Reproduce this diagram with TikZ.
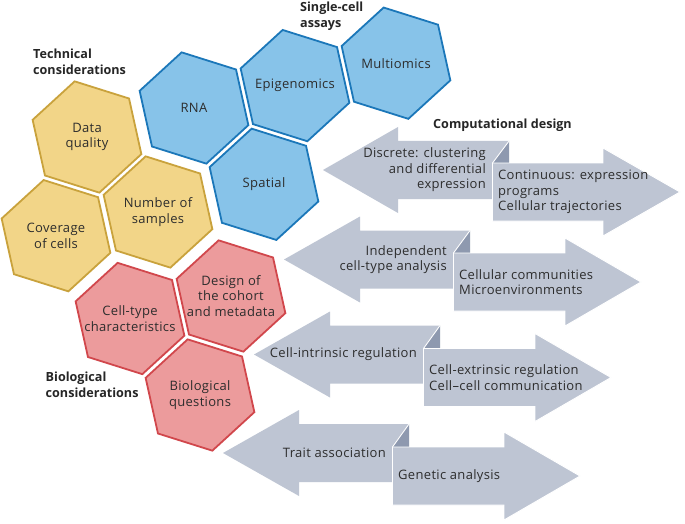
\documentclass[tikz,border=0pt]{standalone}
\usepackage{fontspec}
\setmainfont[LetterSpace=2.5]{Open Sans}
\newfontfamily\headfont{Open Sans}
\usetikzlibrary{calc}
\definecolor{bluefill}{HTML}{87C3E9}
\definecolor{bluedraw}{HTML}{1B77B9}
\definecolor{yelfill}{HTML}{F2D588}
\definecolor{yeldraw}{HTML}{C9A23C}
\definecolor{redfill}{HTML}{EC9B9C}
\definecolor{reddraw}{HTML}{D1474C}
\definecolor{arrfill}{HTML}{BEC5D3}
\definecolor{arrdark}{HTML}{8E99AF}
\definecolor{txt}{HTML}{2D2D2D}
\tikzset{
  hextext/.style={font=\fontsize{13}{15.6}\selectfont, text=txt, align=center, inner sep=0pt},
  arrtext/.style={font=\fontsize{13}{15.6}\selectfont, text=txt, inner sep=0pt},
  headtext/.style={font=\headfont\fontsize{12.6}{16}\selectfont\bfseries, text=black!85, align=left, inner sep=0pt},
  bluehex/.style={fill=bluefill, draw=bluedraw, line width=1.8pt, line join=miter},
  yelhex/.style={fill=yelfill, draw=yeldraw, line width=1.8pt, line join=miter},
  redhex/.style={fill=redfill, draw=reddraw, line width=1.8pt, line join=miter},
  arrshape/.style={fill=arrfill},
  arrfront/.style={fill=arrfill, draw=white, line width=0.9pt},
}
% #1 name, #2 x, #3 y, #4 style, #5 text
\newcommand{\myhex}[5]{%
  \draw[#4, shift={(#2,#3)}] (257.5:57) -- (317.5:57) -- (17.5:57) -- (77.5:57) -- (137.5:57) -- (197.5:57) -- cycle;
  \node[hextext] (#1) at (#2,#3) {#5};
}
% #1 tipL x, #2 yl, #3 head base L, #4 S, #5 yr, #6 head base R, #7 tip R, #8 name
\newcommand{\myrow}[8]{%
  \fill[arrshape] (#1,#2) -- (#3,#2-43) -- (#3,#2-29) -- (#4,#2-29) -- (#4-16.5,#5-29) -- (#4-16.5,#2+29) -- (#3,#2+29) -- (#3,#2+43) -- cycle;
  \fill[arrdark] (#4,#2-29) -- (#4,#5-29) -- (#4-16.5,#5-29) -- cycle;
  \draw[white, line width=0.9pt] (#4,#2-29) -- (#4-16.5,#5-29);
  \draw[arrfront] (#4-16.5,#5-29) -- (#6,#5-29) -- (#6,#5-44) -- (#7,#5) -- (#6,#5+44) -- (#6,#5+29) -- (#4-16.5,#5+29) -- cycle;
  \coordinate (#8L) at (#4-23,#2);
  \coordinate (#8R) at (#4-11,#5);
}
\begin{document}
\begin{tikzpicture}[x=1pt,y=-1pt]
\useasboundingbox (0,0) rectangle (685,524);
\fill[white] (0,0) rectangle (685,524);

% blue: single-cell assays
\myhex{rna}{194}{108}{bluehex}{RNA}
\myhex{epi}{295}{85.6}{bluehex}{Epigenomics}
\myhex{multi}{396}{63.2}{bluehex}{Multiomics}
\myhex{spatial}{264}{184.3}{bluehex}{Spatial}

% yellow: technical considerations
\myhex{dataq}{87}{137}{yelhex}{Data\\quality}
\myhex{nsamp}{158}{212}{yelhex}{Number of\\samples}
\myhex{cover}{56}{235.7}{yelhex}{Coverage\\of cells}

% red: biological considerations
\myhex{celltype}{130}{318.5}{redhex}{Cell-type\\characteristics}
\myhex{design}{231}{296}{redhex}{Design of\\the cohort\\and metadata}
\myhex{bioq}{200}{395}{redhex}{Biological\\questions}

% headings
\node[headtext, anchor=west] (hsingle) at (300,16) {Single-cell\\assays};
\node[headtext, anchor=west] (htech) at (33,61.5) {Technical\\considerations};
\node[headtext, anchor=west] (hbio) at (45.5,384.7) {Biological\\considerations};
\node[headtext, anchor=west] (hcomp) at (433,125) {Computational design};

% computational design arrows
\myrow{323}{170}{398}{509}{192}{603}{680}{rowa}
\node[arrtext, anchor=east, align=right] (discrete) at (rowaL) {Discrete: clustering\\and differential\\expression};
\node[arrtext, anchor=west, align=left] (continuous) at (rowaR) {Continuous: expression\\programs\\Cellular trajectories};

\myrow{284}{259.5}{360}{470}{282}{565}{641}{rowb}
\node[arrtext, anchor=east, align=right] (independent) at (rowbL) {Independent\\cell-type analysis};
\node[arrtext, anchor=west, align=left] (communities) at (rowbR) {Cellular communities\\Microenvironments};

\myrow{254}{354.5}{330}{440}{377.5}{535}{611}{rowc}
\node[arrtext, anchor=east, align=right] (intrinsic) at (rowcL) {Cell-intrinsic regulation};
\node[arrtext, anchor=west, align=left] (extrinsic) at (rowcR) {Cell-extrinsic regulation\\Cell–cell communication};

\myrow{223}{453}{299}{409}{476}{504}{580}{rowd}
\node[arrtext, anchor=east, align=right] (trait) at (rowdL) {Trait association};
\node[arrtext, anchor=west, align=left] (genetic) at (rowdR) {Genetic analysis};
\end{tikzpicture}
\end{document}
